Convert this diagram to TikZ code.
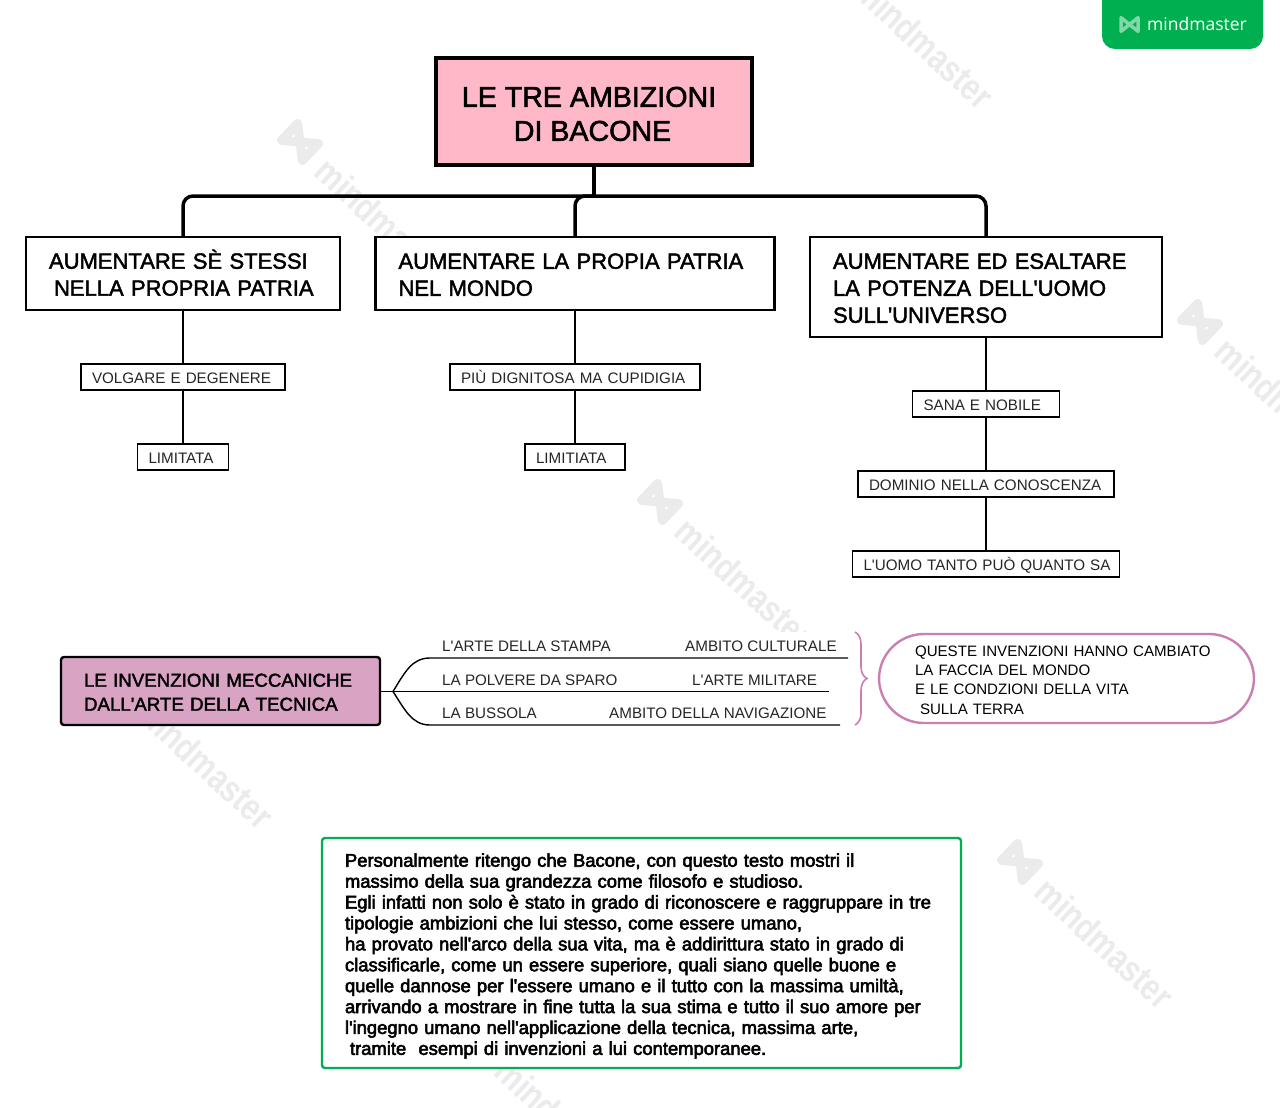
\documentclass[tikz,border=0pt]{standalone}
\usepackage{graphicx}
\usepackage{fontspec}
\setmainfont{Liberation Sans}
\newfontfamily\plainsans{Liberation Sans}
\newfontfamily\semibold[FakeBold=2]{Liberation Sans}
\newfontfamily\boldbody[FakeBold=3]{Liberation Sans}
\newfontfamily\badgefont{Open Sans}
\usetikzlibrary{decorations.pathreplacing}
\definecolor{titlepink}{HTML}{FFB8C8}
\definecolor{mauve}{HTML}{D9A3C4}
\definecolor{orchid}{HTML}{C97FB2}
\definecolor{mmgreen}{HTML}{00AF50}
\definecolor{wmgray}{HTML}{EBEBEB}
\definecolor{inkgray}{HTML}{262626}
\tikzset{
    titlebox/.style={draw=black, line width=3.2pt, fill=titlepink, align=center, inner sep=0pt,
        minimum width=316pt, minimum height=107pt, text height=58.5pt, text depth=0pt,
        font=\semibold\fontsize{28.6}{34}\selectfont},
    ambition/.style={draw=black, fill=white, line width=2.2pt, inner sep=0pt, align=left,
        minimum width=#1pt, text width=#1pt-46pt, font=\semibold\fontsize{22}{27}\selectfont},
    leafbox/.style={draw=black, fill=white, line width=1.1pt, inner sep=0pt, align=left,
        minimum height=26pt, minimum width=#1pt, text width=#1pt-22pt, text=inkgray,
        text height=13pt, text depth=0pt, font=\plainsans\fontsize{15.2}{19}\selectfont},
    trunk/.style={line width=3.5pt, rounded corners=10pt},
    twig/.style={line width=1.4pt},
    invlabel/.style={inner sep=0pt, anchor=base west, text=inkgray, font=\plainsans\fontsize{15.2}{19}\selectfont},
    invline/.style={line width=1.4pt},
    wmtext/.style={text=wmgray, inner sep=0pt, anchor=west, rotate=-42.5,
        font=\bfseries\fontsize{37}{37}\selectfont},
    mmicon/.pic={
        \draw[line width=#1, line join=round, pic actions] (-10,-8) -- (-10,8) -- (10,-8) -- (10,8) -- cycle;
    },
}
\begin{document}
\begin{tikzpicture}[x=1pt, y=-1pt]
\useasboundingbox (0,0) rectangle (1280,1108);
\clip (0,0) rectangle (1280,1108);
\fill[white] (0,0) rectangle (1280,1108);

% watermark
\foreach \wx/\wy/\wn in {840/-38/a, 300/142/b, 1200/322/c, 660/502/d, 120/682/e, 1020/862/f, 480/1042/g} {
    \pic[wmgray, rotate=-44, scale=1.45] at (\wx,\wy) {mmicon=9pt};
    \node[wmtext] (wm\wn) at (\wx+21,\wy+23) {\scalebox{.82}[1]{mindmaster}};
}

% badge
\fill[mmgreen, rounded corners=13pt] (1102,-20) rectangle (1263,49);
\pic[white, opacity=.5, scale=.85] at (1129.5,24.5) {mmicon=3.5pt};
\node[text=white, inner sep=0pt, anchor=base west, font=\badgefont\fontsize{17.5}{21}\selectfont] (badge) at (1147,30.5) {mindmaster};

% tree
\node[titlebox] (title) at (594,111.5) {LE TRE AMBIZIONI\hspace*{10pt}\\DI BACONE\hspace*{3pt}};
\coordinate (hub) at (594,196);

\node[ambition=314, minimum height=73pt, text height=17.6pt] (patria) at (183,273.5) {AUMENTARE SÈ STESSI\\\hspace*{5pt}NELLA PROPRIA PATRIA};
\node[ambition=399, minimum height=73pt, text height=17.8pt] (mondo) at (575,273.5) {AUMENTARE LA PROPIA PATRIA\\NEL MONDO};
\node[ambition=352, minimum height=100pt, text height=17.8pt] (universo) at (986,287) {AUMENTARE ED ESALTARE\\LA POTENZA DELL'UOMO\\SULL'UNIVERSO};

\node[leafbox=204] (volgare) at (183,377) {VOLGARE E DEGENERE};
\node[leafbox=91] (limitata) at (183,457) {LIMITATA};
\node[leafbox=250] (dignitosa) at (575,377) {PIÙ DIGNITOSA MA CUPIDIGIA};
\node[leafbox=100] (limitiata) at (575,457) {LIMITIATA};
\node[leafbox=147] (sana) at (986,404) {SANA E NOBILE};
\node[leafbox=256] (dominio) at (986,484) {DOMINIO NELLA CONOSCENZA};
\node[leafbox=267] (uomo) at (986,564) {\mbox{L'UOMO TANTO PUÒ QUANTO SA}};

\draw[trunk] (title.south) -- (hub);
\draw[trunk] (hub) -| (patria.north);
\draw[trunk] (hub) -| (mondo.north);
\draw[trunk] (hub) -| (universo.north);

\draw[twig] (patria.south) -- (volgare.north);
\draw[twig] (volgare.south) -- (limitata.north);
\draw[twig] (mondo.south) -- (dignitosa.north);
\draw[twig] (dignitosa.south) -- (limitiata.north);
\draw[twig] (universo.south) -- (sana.north);
\draw[twig] (sana.south) -- (dominio.north);
\draw[twig] (dominio.south) -- (uomo.north);

% inventions
\node[draw=black, fill=mauve, line width=2.4pt, rounded corners=3pt, inner sep=0pt,
    minimum width=319pt, minimum height=68pt, text width=273pt, align=left,
    text height=15.6pt,
    font=\semibold\fontsize{18.7}{24}\selectfont] (inv) at (220.5,691) {LE INVENZIONI MECCANICHE\\DALL'ARTE DELLA TECNICA};
\coordinate (fork) at (393,691.5);
\coordinate (stampaend) at (848,658);
\coordinate (polvereend) at (829,691.5);
\coordinate (bussolaend) at (840,725);

\node[invlabel] (stampa) at (442,651.5) {L'ARTE DELLA STAMPA};
\node[invlabel, fill=white, text height=20pt] (culturale) at (685,651.5) {AMBITO CULTURALE};
\node[invlabel] (polvere) at (442,685) {LA POLVERE DA SPARO};
\node[invlabel] (militare) at (692,685) {L'ARTE MILITARE};
\node[invlabel] (bussola) at (442,718.5) {LA BUSSOLA};
\node[invlabel] (navigazione) at (609,718.5) {AMBITO DELLA NAVIGAZIONE};

\draw[invline] (inv.east |- fork) -- (fork) -- (polvereend);
\draw[invline] (fork) .. controls (405,672) and (412,658) .. (430,658) -- (stampaend);
\draw[invline] (fork) .. controls (405,710) and (412,725) .. (430,725) -- (bussolaend);

\coordinate (bracetop) at (855,632);
\coordinate (bracebot) at (855,725);
\draw[orchid, line width=1.6pt, decorate, decoration={brace, amplitude=12pt}] (bracetop) -- (bracebot);

\node[draw=orchid, line width=2.4pt, fill=white, rounded corners=45pt, inner sep=0pt,
    minimum width=375pt, minimum height=89pt, text width=303pt, align=left,
    text height=13.8pt,
    font=\plainsans\fontsize{15.1}{19.3}\selectfont] (faccia) at (1066.5,678.5)
    {QUESTE INVENZIONI HANNO CAMBIATO\\LA FACCIA DEL MONDO\\E LE CONDZIONI DELLA VITA\\\hspace*{5pt}SULLA TERRA};

% comment box
\node[draw=mmgreen, line width=2.4pt, fill=white, rounded corners=3pt, inner sep=0pt,
    minimum width=639pt, minimum height=230pt, text width=593pt, align=left,
    text height=19.4pt,
    font=\boldbody\fontsize{18.4}{20.9}\selectfont] (giudizio) at (641.5,953)
    {Personalmente ritengo che Bacone, con questo testo mostri il\\
     massimo della sua grandezza come filosofo e studioso.\\
     Egli infatti non solo è stato in grado di riconoscere e raggruppare in tre\\
     tipologie ambizioni che lui stesso, come essere umano,\\
     ha provato nell'arco della sua vita, ma è addirittura stato in grado di\\
     classificarle, come un essere superiore, quali siano quelle buone e\\
     quelle dannose per l'essere umano e il tutto con la massima umiltà,\\
     arrivando a mostrare in fine tutta la sua stima e tutto il suo amore per\\
     l'ingegno umano nell'applicazione della tecnica, massima arte,\\
     \hspace*{5pt}tramite\ \ esempi di invenzioni a lui contemporanee.};
\end{tikzpicture}
\end{document}
